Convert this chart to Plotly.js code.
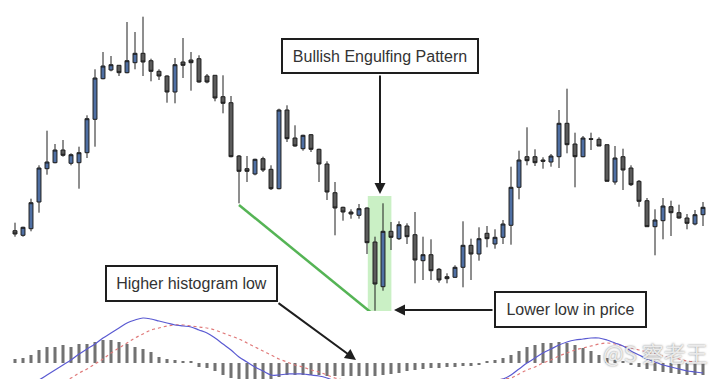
<!DOCTYPE html>
<html>
<head>
<meta charset="utf-8">
<script src="https://cdn.plot.ly/plotly-3.0.1.min.js"></script>
<style>
  html, body { margin: 0; padding: 0; background: #fff; }
  #chart { width: 720px; height: 379px; }
</style>
</head>
<body>
<div id="chart"></div>
<script>
// Price bars (OHLC), one per session
const open = [149.3,144.7,151.3,178.0,211.3,217.3,230.0,216.7,217.3,227.3,260.7,301.3,310.0,314.7,307.3,317.3,326.7,319.3,308.7,304.0,288.0,318.0,320.0,321.3,304.0,304.7,283.3,277.3,224.0,211.3,206.0,221.3,210.7,191.3,270.0,242.0,231.3,245.3,230.7,216.0,187.3,172.7,168.0,164.7,172.0,138.0,93.3,148.7,141.3,154.0,145.3,119.3,125.3,110.7,103.3,102.7,112.7,134.7,126.0,146.7,136.0,142.7,154.7,192.7,223.3,223.3,220.0,218.0,223.3,256.7,236.0,223.3,241.3,240.7,235.3,198.0,223.3,212.0,198.7,179.3,153.3,159.3,173.3,167.3,162.0,156.0,165.3];
const high = [157.3,153.3,181.3,214.7,249.3,236.0,240.0,226.7,233.3,264.7,310.7,328.0,324.0,314.7,358.0,348.0,363.3,321.3,310.7,304.7,322.0,342.0,328.0,324.7,306.0,304.7,304.7,284.0,225.0,224.0,221.3,223.3,214.7,271.3,274.7,254.7,245.3,246.0,231.3,218.7,198.0,173.3,170.7,176.0,172.7,143.3,176.7,158.0,158.7,156.7,168.0,143.3,140.7,112.0,106.7,114.7,158.7,141.3,152.7,154.0,150.7,160.0,213.3,229.3,252.7,230.7,222.7,226.0,270.0,291.3,247.3,244.0,247.3,242.7,235.3,234.0,231.3,214.7,200.0,182.0,170.7,182.0,179.3,175.3,166.0,170.0,178.0];
const low = [143.3,143.3,148.7,167.3,205.3,216.7,223.3,214.7,191.3,222.0,233.3,300.7,308.7,304.0,306.7,310.7,304.0,298.7,300.0,277.3,276.7,302.0,289.3,297.3,296.7,278.7,266.7,222.7,176.7,198.0,204.7,208.0,190.0,190.7,238.0,233.3,229.3,228.0,198.0,180.0,144.7,159.3,161.3,161.3,126.0,69.3,89.3,130.0,140.0,136.0,96.7,100.0,100.0,97.3,96.7,102.0,92.7,100.0,119.3,132.7,131.3,136.0,135.3,180.7,214.7,214.0,211.3,213.3,212.0,226.7,192.7,222.7,230.0,234.0,198.7,195.3,190.0,194.0,173.3,153.3,124.7,140.7,144.0,161.3,150.7,154.7,154.0];
const close = [146.0,152.7,177.3,212.0,218.0,230.0,224.7,225.3,227.3,261.3,302.0,314.0,315.3,307.3,319.3,326.7,318.0,308.7,304.0,288.0,315.3,314.7,317.3,298.0,298.0,282.0,276.7,223.3,208.7,208.7,220.7,210.0,191.3,270.0,241.3,234.0,244.7,230.7,216.0,188.0,172.0,168.0,166.0,171.3,137.3,96.0,148.7,142.7,155.3,143.3,120.0,125.3,109.3,100.0,101.3,112.7,134.7,126.0,141.3,141.3,142.7,156.0,192.7,220.0,219.3,217.3,218.7,224.0,256.7,235.3,223.3,242.0,240.7,234.0,198.7,222.0,210.0,195.3,178.7,153.3,160.0,174.0,167.3,162.0,156.7,165.3,172.7];

// MACD indicator: histogram, fast line and dotted signal line
const macdHist = [4,5,8,13,16,16,18,16,19,19,21,23,23,21,19,16,14,11,6,4,3,2,2,-4,-5,-8,-12,-15,-17,-18,-19,-19,-18,-14,-12,-12,-12,-12,-12,-13,-13,-13,-13,-13,-13,-13,-12,-11,-10,-8,-7,-6,-5,-5,-4,-4,-3,-3,-2,2,3,5,8,12,16,18,20,20,21,20,18,15,12,8,5,3,2,-2,-4,-6,-8,-9,-10,-11,-12,-12,-12];
const macdLine = [-30,-26,-21,-17,-12,-7,-2,3,9,14,19,25,30,35,40,43,45,44,42,40,38,37,36,33,30,25,19,13,6,1,-4,-8,-12,-12,-11,-11,-11,-12,-13,-15,-18,-20,-21,-22,-23,-24,-24,-25,-25,-25,-25,-24,-24,-23,-22,-21,-21,-20,-19,-18,-17,-16,-12,-6,0,5,10,14,18,21,23,24,25,25,23,20,17,12,8,4,1,-2,-4,-6,-8,-9,-10];
const signalLine = [-40,-37,-34,-30,-26,-22,-19,-15,-10,-6,-1,4,10,15,20,25,29,33,35,37,38,38,37,36,35,33,30,27,24,20,16,12,8,4,1,-2,-4,-7,-9,-12,-15,-17,-19,-20,-21,-22,-23,-23,-24,-24,-24,-24,-24,-23,-23,-22,-22,-21,-20,-19,-18,-16,-15,-11,-7,-4,0,3,7,10,13,15,17,19,20,19,17,15,13,11,9,7,5,4,2,1,0];

const bars = open.map((_, i) => i);

// Annotation texts
const labelPattern = 'Bullish Engulfing Pattern';
const labelHist = 'Higher histogram low';
const labelPrice = 'Lower low in price';
const watermark = '@S 察老王';

const W = 720, H = 379;
const px = v => v / W;
const py = v => 1 - v / H;

const traces = [
  {
    type: 'candlestick',
    x: bars, open: open, high: high, low: low, close: close,
    xaxis: 'x', yaxis: 'y',
    increasing: { line: { color: '#1e1e1e', width: 1 }, fillcolor: '#4f6fa3' },
    decreasing: { line: { color: '#1e1e1e', width: 1 }, fillcolor: '#5b5b5b' },
    whiskerwidth: 0,
    hoverinfo: 'skip'
  },
  {
    type: 'bar', x: bars, y: macdHist, xaxis: 'x', yaxis: 'y2',
    width: 0.38, marker: { color: '#727272', line: { width: 0 } }, hoverinfo: 'skip'
  },
  {
    type: 'scatter', mode: 'lines', x: bars, y: signalLine, xaxis: 'x', yaxis: 'y2',
    line: { color: '#e07a7a', width: 1.2, dash: 'dot', shape: 'spline' }, hoverinfo: 'skip'
  },
  {
    type: 'scatter', mode: 'lines', x: bars, y: macdLine, xaxis: 'x', yaxis: 'y2',
    line: { color: '#5a5ad2', width: 1.2, shape: 'spline' }, hoverinfo: 'skip'
  }
];

const boxFont = { family: 'Liberation Sans, Arial, sans-serif', size: 16, color: '#333' };
const boxStyle = { bgcolor: '#fff', bordercolor: '#1e1e1e', borderwidth: 2, borderpad: 0, showarrow: false,
  xref: 'paper', yref: 'paper', xanchor: 'center', yanchor: 'middle', font: boxFont };
const arrowStyle = { text: '', showarrow: true, arrowhead: 2, arrowsize: 1.1, arrowwidth: 2,
  arrowcolor: '#1e1e1e', xref: 'paper', yref: 'paper', axref: 'pixel', ayref: 'pixel', standoff: 0 };

const layout = {
  width: W, height: H,
  margin: { l: 0, r: 0, t: 0, b: 0, pad: 0 },
  paper_bgcolor: '#fff', plot_bgcolor: '#fff',
  showlegend: false,
  xaxis: { range: [-1.875, 88.125], visible: false, rangeslider: { visible: false }, fixedrange: true },
  yaxis: { range: [1, 380], visible: false, domain: [0, 1], fixedrange: true },
  yaxis2: { range: [-16, 52], visible: false, domain: [0, 68 / 379], anchor: 'x', fixedrange: true },
  shapes: [
    // highlight around the engulfing pair
    { type: 'rect', xref: 'x', yref: 'y', x0: 44.1, x1: 47.05, y0: 63, y1: 184,
      fillcolor: 'rgba(150,225,140,0.5)', line: { width: 0 }, layer: 'below' },
    // falling trend line across the price lows
    { type: 'line', xref: 'x', yref: 'y', x0: 28.0, y0: 175, x1: 45.2, y1: 63,
      line: { color: '#55b455', width: 2.5 }, layer: 'below' }
  ],
  annotations: [
    Object.assign({}, arrowStyle, { x: px(380), y: py(194), ax: 0, ay: -120 }),
    Object.assign({}, arrowStyle, { x: px(356), y: py(360), ax: -79, ay: -58 }),
    Object.assign({}, arrowStyle, { x: px(394), y: py(310), ax: 100, ay: 0 }),
    Object.assign({}, boxStyle, { text: labelPattern, x: px(380), y: py(56), width: 194, height: 32 }),
    Object.assign({}, boxStyle, { text: labelHist, x: px(191.5), y: py(283.5), width: 169, height: 33 }),
    Object.assign({}, boxStyle, { text: labelPrice, x: px(570.5), y: py(309.5), width: 149, height: 33 }),
    { text: watermark, showarrow: false, xref: 'paper', yref: 'paper', x: px(710), y: py(352),
      xanchor: 'right', yanchor: 'middle',
      font: { family: 'Noto Sans CJK SC, sans-serif', size: 22, color: 'rgba(245,245,245,0.9)',
              shadow: '0px 0px 2px rgba(90,90,90,0.9)' } }
  ]
};

Plotly.newPlot('chart', traces, layout, { staticPlot: true, displayModeBar: false });
</script>
</body>
</html>
